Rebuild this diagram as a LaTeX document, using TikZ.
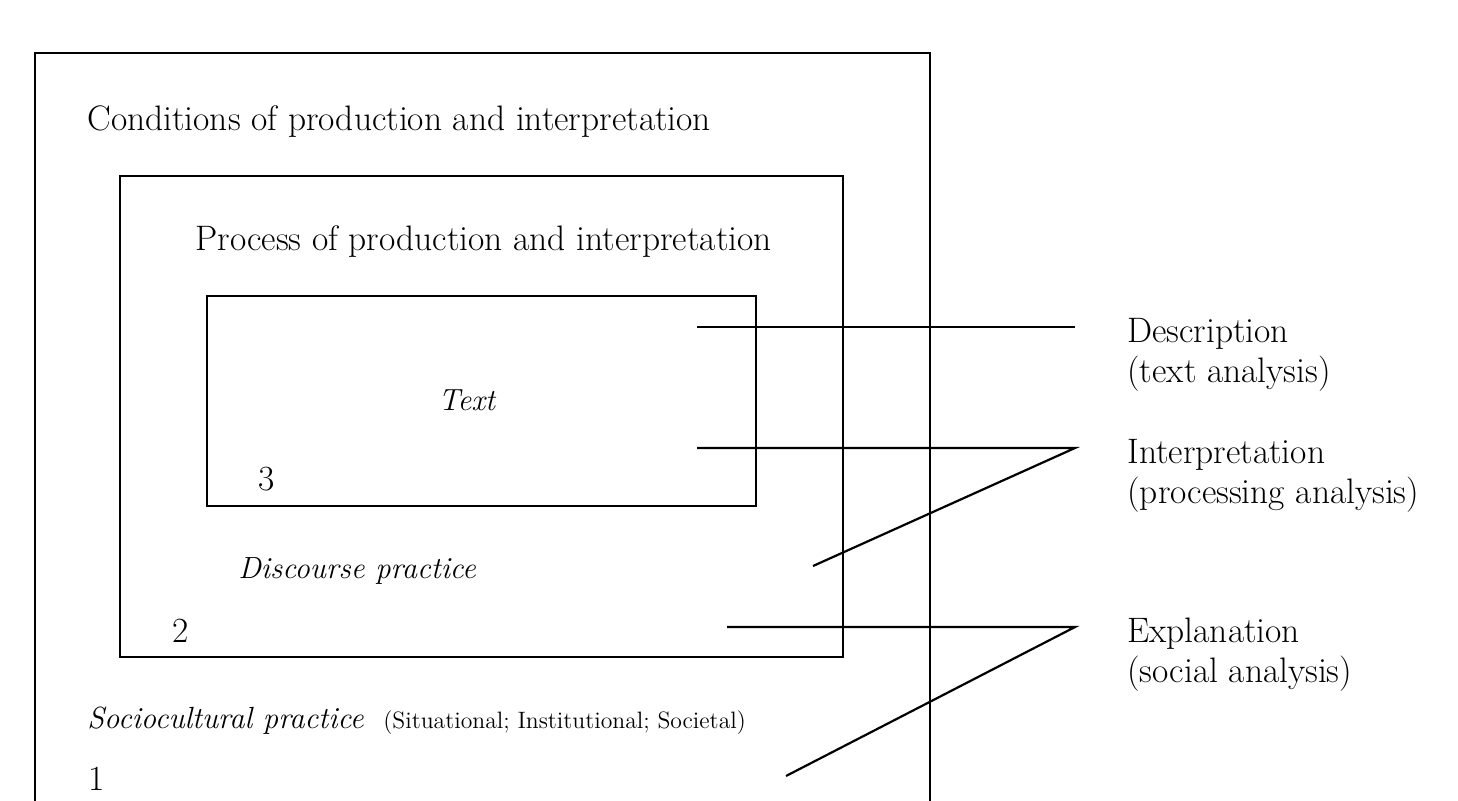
\documentclass[tikz,border=0pt]{standalone}
\begin{document}
\begin{tikzpicture}[x=0.5pt,y=-0.5pt,
  box/.style={draw,line width=1.1pt},
  conn/.style={line width=1.1pt},
  lbl/.style={inner sep=0pt,anchor=base west,font=\fontsize{17.7}{20}\selectfont},
  ital/.style={inner sep=0pt,anchor=base west,font=\fontsize{15.3}{18}\selectfont\itshape},
  small/.style={inner sep=0pt,anchor=base west,font=\fontsize{11.85}{14}\selectfont},
]
\useasboundingbox (0,0) rectangle (1458,800);
\begin{scope}
  \clip (0,0) rectangle (1458,800);
  \draw[box] (35,53) rectangle (930,840);
\end{scope}
\draw[box] (120,176) rectangle (843,657);
\draw[box] (207,296) rectangle (756,506);

% texts
\node[lbl] (cond) at (87,130) {Conditions of production and interpretation};
\node[lbl] (proc) at (195,250) {Process of production and interpretation};
\node[ital] (text) at (438,410) {Text};
\node[lbl] (n3) at (258,490) {3};
\node[ital] (disc) at (238,578) {Discourse practice};
\node[lbl] (n2) at (172,642) {2};
\node[ital] (soc) at (87,728) {Sociocultural practice};
\node[small] (sit) at (383,728) {(Situational; Institutional; Societal)};
\node[lbl] (n1) at (88,790) {1};

% labels
\node[lbl] (desc) at (1127,342) {\begin{tabular}[t]{@{}l@{}}Description\\(text analysis)\end{tabular}};
\node[lbl] (interp) at (1127,463) {\begin{tabular}[t]{@{}l@{}}Interpretation\\(processing analysis)\end{tabular}};
\node[lbl] (expl) at (1127,642) {\begin{tabular}[t]{@{}l@{}}Explanation\\(social analysis)\end{tabular}};

% connectors
\coordinate (dIn) at (697,327);
\coordinate (dJ) at (1075,327);
\coordinate (iIn) at (697,448);
\coordinate (iJ) at (1075,448);
\coordinate (iOut) at (813,566);
\coordinate (eIn) at (727,627);
\coordinate (eJ) at (1075,627);
\coordinate (eOut) at (786,776);

\draw[conn] (dIn) -- (dJ);
\draw[conn] (iIn) -- (iJ) -- (iOut);
\draw[conn] (eIn) -- (eJ) -- (eOut);
\end{tikzpicture}
\end{document}
